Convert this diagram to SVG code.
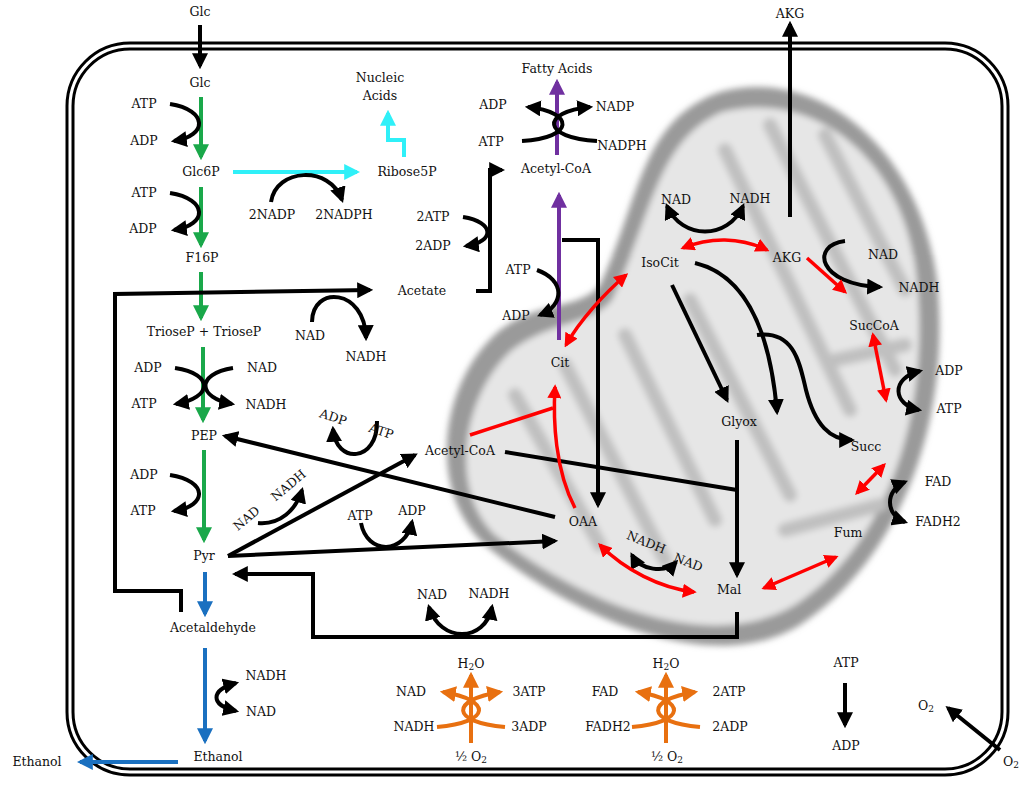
<svg xmlns="http://www.w3.org/2000/svg" width="1024" height="786" viewBox="0 0 1024 786">
<defs>
<style>
text{font-family:"DejaVu Serif","Liberation Serif",serif;font-size:12.5px;fill:#111;text-anchor:middle;dominant-baseline:middle}
.s{font-size:9px}
.k{fill:none;stroke:#000;stroke-width:4}
.g{fill:none;stroke:#1aa84a;stroke-width:4}
.b{fill:none;stroke:#1a70c0;stroke-width:4}
.c{fill:none;stroke:#2ff0f8;stroke-width:4}
.p{fill:none;stroke:#7030a0;stroke-width:4}
.r{fill:none;stroke:#f00;stroke-width:3.5}
.o{fill:none;stroke:#e87010;stroke-width:4}
</style>
<marker id="mk" viewBox="0 0 10 10" refX="8" refY="5" markerWidth="4" markerHeight="4" orient="auto-start-reverse"><path d="M0,0L10,5L0,10z" fill="#000"/></marker>
<marker id="mg" viewBox="0 0 10 10" refX="8" refY="5" markerWidth="4" markerHeight="4" orient="auto-start-reverse"><path d="M0,0L10,5L0,10z" fill="#1aa84a"/></marker>
<marker id="mb" viewBox="0 0 10 10" refX="8" refY="5" markerWidth="4" markerHeight="4" orient="auto-start-reverse"><path d="M0,0L10,5L0,10z" fill="#1a70c0"/></marker>
<marker id="mc" viewBox="0 0 10 10" refX="8" refY="5" markerWidth="4" markerHeight="4" orient="auto-start-reverse"><path d="M0,0L10,5L0,10z" fill="#2ff0f8"/></marker>
<marker id="mp" viewBox="0 0 10 10" refX="8" refY="5" markerWidth="4" markerHeight="4" orient="auto-start-reverse"><path d="M0,0L10,5L0,10z" fill="#7030a0"/></marker>
<marker id="mr" viewBox="0 0 10 10" refX="8" refY="5" markerWidth="4" markerHeight="4" orient="auto-start-reverse"><path d="M0,0L10,5L0,10z" fill="#f00"/></marker>
<marker id="mo" viewBox="0 0 10 10" refX="8" refY="5" markerWidth="4" markerHeight="4" orient="auto-start-reverse"><path d="M0,0L10,5L0,10z" fill="#e87010"/></marker>
<filter id="bl"><feGaussianBlur stdDeviation="3"/></filter>
</defs>
<rect width="1024" height="786" fill="#fff"/>
<g id="cell">
<rect x="70" y="46" width="935" height="726" rx="60" fill="none" stroke="#000" stroke-width="9"/>
<rect x="70" y="46" width="935" height="726" rx="60" fill="none" stroke="#fff" stroke-width="3"/>
</g>
<g id="mitochondrion" filter="url(#bl)">
<path d="M600,285 C640,200 640,120 720,92 C820,65 920,150 937,280 C952,420 900,560 800,625 C710,680 570,615 485,545 C425,490 440,380 500,330 C540,300 580,310 600,285 Z" fill="#9a9a9a"/>
<path d="M612,300 C652,215 657,140 722,112 C815,88 907,160 917,282 C930,415 887,545 795,605 C705,658 575,598 495,535 C448,490 462,395 512,350 C552,320 592,325 612,300 Z" fill="#e6e6e6"/>
<g stroke="#c0c0c0" stroke-width="14" stroke-linecap="round" fill="none">
<path d="M515,395 L600,545"/><path d="M565,365 L665,560"/><path d="M625,335 L715,520"/><path d="M690,300 L790,495"/>
<path d="M725,150 L850,410"/><path d="M770,125 L895,370"/><path d="M825,135 L905,290"/>
<path d="M785,530 L880,505"/><path d="M835,360 L905,345"/>
</g>
</g>
<g id="connectors">
<path class="g" marker-end="url(#mg)" d="M201,97V157"/><path class="g" marker-end="url(#mg)" d="M201,187V245"/><path class="g" marker-end="url(#mg)" d="M201,272V318"/><path class="g" marker-end="url(#mg)" d="M203,347V420"/><path class="g" marker-end="url(#mg)" d="M204,450V540"/>
<path class="b" marker-end="url(#mb)" d="M205,572V614"/><path class="b" marker-end="url(#mb)" d="M205,648V741"/><path class="b" marker-end="url(#mb)" d="M178,762H80"/>
<path class="c" marker-end="url(#mc)" d="M233,172H357"/><path class="c" marker-end="url(#mc)" d="M404,157V140H388V113"/>
<path class="p" marker-end="url(#mp)" d="M557,155V82"/><path class="p" marker-end="url(#mp)" d="M559,340V195"/>
<path class="k" marker-end="url(#mk)" d="M200,25V66"/>
<path class="k" marker-end="url(#mk)" d="M170,104C208,110 208,136 174,141"/>
<path class="k" marker-end="url(#mk)" d="M170,193C208,199 208,225 174,230"/>
<path class="k" marker-end="url(#mk)" d="M175,368C215,374 212,398 176,404"/>
<path class="k" marker-end="url(#mk)" d="M233,368C195,374 198,398 232,404"/>
<path class="k" marker-end="url(#mk)" d="M170,475C208,481 208,506 174,511"/>
<path class="k" marker-end="url(#mk)" d="M271,202C276,168 330,165 342,200"/>
<path class="k" marker-start="url(#mk)" marker-end="url(#mk)" d="M236,683C210,690 210,705 236,711"/>
<path class="k" marker-end="url(#mk)" d="M181,612V591H115V294L370,290"/>
<path class="k" marker-end="url(#mk)" d="M312,322C312,285 365,288 366,338"/>
<path class="k" marker-end="url(#mk)" d="M476,291H490V170H502"/>
<path class="k" marker-end="url(#mk)" d="M463,217C495,222 495,242 466,246"/>
<path class="k" marker-end="url(#mk)" d="M522,141C575,138 575,112 528,107"/>
<path class="k" marker-end="url(#mk)" d="M597,141C542,138 540,112 590,107"/>
<path class="k" marker-end="url(#mk)" d="M537,270C565,280 565,305 540,315"/>
<path class="k" marker-end="url(#mk)" d="M562,240H598V505"/>
<path class="k" marker-end="url(#mk)" d="M555,517L225,436"/>
<path class="k" marker-end="url(#mk)" d="M377,421C378,462 336,465 333,429"/>
<path class="k" marker-end="url(#mk)" d="M228,556L415,455"/>
<path class="k" marker-end="url(#mk)" d="M258,523C280,525 296,510 302,490"/>
<path class="k" marker-end="url(#mk)" d="M228,556L555,541"/>
<path class="k" marker-end="url(#mk)" d="M361,523C367,555 405,555 412,522"/>
<path class="k" d="M505,452L737,490"/>
<path class="k" marker-end="url(#mk)" d="M737,440V575"/>
<path class="k" marker-end="url(#mk)" d="M737,612V637H313V574H235"/>
<path class="k" marker-start="url(#mk)" marker-end="url(#mk)" d="M429,607C440,643 485,643 492,607"/>
<path class="k" marker-end="url(#mk)" d="M672,285L727,400"/>
<path class="k" marker-end="url(#mk)" d="M695,263C745,275 770,330 777,412"/>
<path class="k" marker-end="url(#mk)" d="M757,335C795,330 800,365 806,390C815,425 830,440 852,440"/>
<path class="k" marker-end="url(#mk)" d="M790,217V24"/>
<path class="k" marker-start="url(#mk)" marker-end="url(#mk)" d="M667,206C682,240 728,240 743,206"/>
<path class="k" marker-end="url(#mk)" d="M845,241C810,245 818,285 880,287"/>
<path class="k" marker-start="url(#mk)" marker-end="url(#mk)" d="M920,371C890,378 893,405 919,410"/>
<path class="k" marker-start="url(#mk)" marker-end="url(#mk)" d="M905,482C885,490 885,515 905,522"/>
<path class="k" marker-start="url(#mk)" marker-end="url(#mk)" d="M632,555C640,570 665,574 676,562"/>
<path class="k" marker-end="url(#mk)" d="M845,683V725"/>
<path class="k" marker-end="url(#mk)" d="M1000,750L948,708"/>
<path class="r" marker-start="url(#mr)" marker-end="url(#mr)" d="M683,248C710,237 740,237 767,250"/>
<path class="r" marker-start="url(#mr)" marker-end="url(#mr)" d="M566,345C580,320 605,293 626,275"/>
<path class="r" marker-end="url(#mr)" d="M575,508C555,470 553,420 555,387"/>
<path class="r" d="M470,435L553,408"/>
<path class="r" marker-end="url(#mr)" d="M807,258L845,292"/>
<path class="r" marker-start="url(#mr)" marker-end="url(#mr)" d="M873,335L886,400"/>
<path class="r" marker-start="url(#mr)" marker-end="url(#mr)" d="M884,465L857,493"/>
<path class="r" marker-start="url(#mr)" marker-end="url(#mr)" d="M836,557L764,588"/>
<path class="r" marker-start="url(#mr)" marker-end="url(#mr)" d="M600,545C625,570 660,588 694,592"/>
<path class="o" marker-end="url(#mo)" d="M471,743V675"/>
<path class="o" marker-end="url(#mo)" d="M437,727C492,722 492,700 443,692"/>
<path class="o" marker-end="url(#mo)" d="M505,727C450,722 450,700 500,692"/>
<path class="o" marker-end="url(#mo)" d="M666,743V675"/>
<path class="o" marker-end="url(#mo)" d="M632,727C687,722 687,700 638,692"/>
<path class="o" marker-end="url(#mo)" d="M700,727C645,722 645,700 695,692"/>
</g>
<g id="labels">
<text x="200" y="12">Glc</text><text x="200" y="83">Glc</text>
<text x="144" y="104">ATP</text><text x="144" y="141">ADP</text>
<text x="201" y="172">Glc6P</text>
<text x="144" y="193">ATP</text><text x="143" y="229">ADP</text>
<text x="202" y="258">F16P</text>
<text x="204" y="332">TrioseP + TrioseP</text>
<text x="148" y="368">ADP</text><text x="262" y="368">NAD</text>
<text x="144" y="404">ATP</text><text x="266" y="405">NADH</text>
<text x="204" y="436">PEP</text>
<text x="144" y="475">ADP</text><text x="143" y="511">ATP</text>
<text x="204" y="556">Pyr</text>
<text x="213" y="628">Acetaldehyde</text>
<text x="266" y="676">NADH</text><text x="261" y="712">NAD</text>
<text x="218" y="757">Ethanol</text><text x="37" y="762">Ethanol</text>
<text x="380" y="78">Nucleic</text><text x="380" y="96">Acids</text>
<text x="407" y="172">Ribose5P</text>
<text x="272" y="215">2NADP</text><text x="344" y="215">2NADPH</text>
<text x="557" y="69">Fatty Acids</text>
<text x="493" y="105">ADP</text><text x="615" y="107">NADP</text>
<text x="491" y="142">ATP</text><text x="622" y="146">NADPH</text>
<text x="556" y="169">Acetyl-CoA</text>
<text x="433" y="217">2ATP</text><text x="433" y="246">2ADP</text>
<text x="422" y="291">Acetate</text>
<text x="518" y="270">ATP</text><text x="516" y="316">ADP</text>
<text x="310" y="336">NAD</text><text x="366" y="357">NADH</text>
<text x="560" y="363">Cit</text>
<text x="460" y="451">Acetyl-CoA</text>
<text x="333" y="418" transform="rotate(18 333 418)">ADP</text>
<text x="381" y="432" transform="rotate(18 381 432)">ATP</text>
<text x="247" y="519" transform="rotate(-40 247 519)">NAD</text>
<text x="289" y="486" transform="rotate(-40 289 486)">NADH</text>
<text x="360" y="516">ATP</text><text x="412" y="511">ADP</text>
<text x="583" y="522">OAA</text>
<text x="646" y="543" transform="rotate(22 646 543)">NADH</text>
<text x="688" y="563" transform="rotate(22 688 563)">NAD</text>
<text x="729" y="590">Mal</text>
<text x="848" y="533">Fum</text>
<text x="938" y="522">FADH2</text><text x="938" y="482">FAD</text>
<text x="866" y="447">Succ</text>
<text x="949" y="371">ADP</text><text x="949" y="409">ATP</text>
<text x="874" y="326">SucCoA</text>
<text x="883" y="255">NAD</text><text x="919" y="288">NADH</text>
<text x="787" y="258">AKG</text>
<text x="676" y="200">NAD</text><text x="750" y="199">NADH</text>
<text x="660" y="263">IsoCit</text>
<text x="739" y="422">Glyox</text>
<text x="790" y="14">AKG</text>
<text x="432" y="595">NAD</text><text x="489" y="594">NADH</text>
<text x="471" y="664">H<tspan class="s" dy="3">2</tspan><tspan dy="-3">O</tspan></text>
<text x="411" y="692">NAD</text><text x="529" y="692">3ATP</text>
<text x="414" y="727">NADH</text><text x="529" y="727">3ADP</text>
<text x="471" y="757">½ O<tspan class="s" dy="3">2</tspan></text>
<text x="666" y="664">H<tspan class="s" dy="3">2</tspan><tspan dy="-3">O</tspan></text>
<text x="605" y="692">FAD</text><text x="729" y="692">2ATP</text>
<text x="608" y="727">FADH2</text><text x="730" y="727">2ADP</text>
<text x="667" y="757">½ O<tspan class="s" dy="3">2</tspan></text>
<text x="846" y="663">ATP</text><text x="846" y="746">ADP</text>
<text x="926" y="706">O<tspan class="s" dy="3">2</tspan></text>
<text x="1011" y="762">O<tspan class="s" dy="3">2</tspan></text>
</g>
</svg>
